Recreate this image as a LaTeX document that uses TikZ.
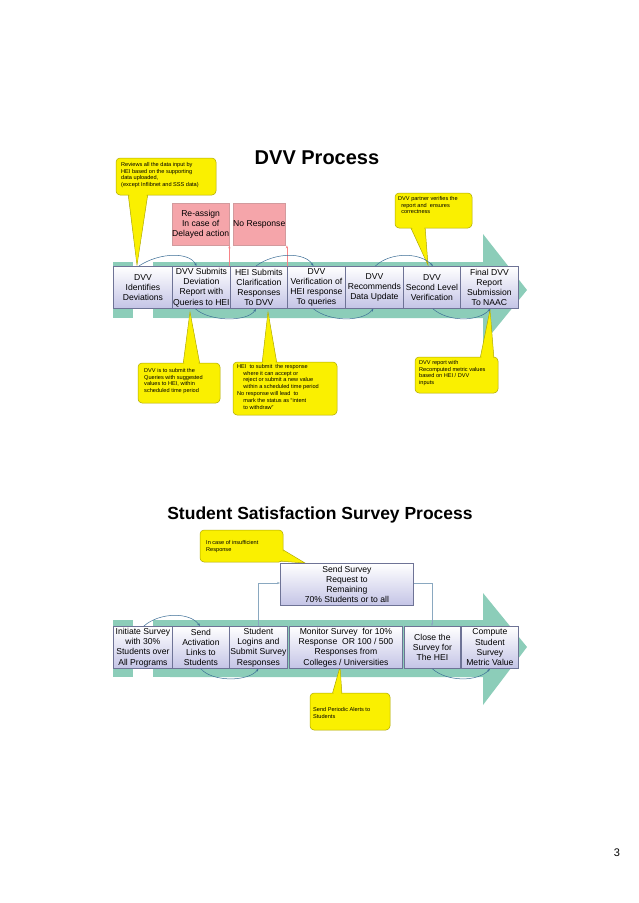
\documentclass[tikz,border=0pt]{standalone}
\usepackage{fontspec}
\setmainfont{Liberation Sans}
\usetikzlibrary{arrows.meta}
\definecolor{teal1}{RGB}{140,205,185}
\definecolor{lav}{RGB}{196,196,230}
\definecolor{bord}{RGB}{110,115,150}
\definecolor{pinkb}{RGB}{245,165,170}
\definecolor{yel}{RGB}{250,240,0}
\definecolor{arcb}{RGB}{60,110,150}
\tikzset{
 stepbox/.style={draw=bord,line width=0.8pt,top color=white,bottom color=lav,minimum height=42pt,inner sep=0pt,align=center,font=\fontsize{8.6}{10.3}\selectfont,anchor=north west},
 pinkbox/.style={draw=pinkb!70!gray,fill=pinkb,inner sep=0pt,align=center,font=\fontsize{8.6}{10.3}\selectfont,anchor=north west},
 calltext/.style={inner sep=0pt,align=left,font=\fontsize{5.6}{6.8}\selectfont,anchor=north west},
 arcarrow/.style={draw=arcb,line width=0.5pt,-{Stealth[length=3pt]}},
 pinkarrow/.style={draw=pinkb!80!red,line width=0.5pt,-{Stealth[length=3pt]}},
 linarrow/.style={draw=arcb!60,line width=0.5pt,-{Stealth[length=3pt]}}
}
\newcommand{\callout}[6]{% x1 y1 x2 y2 tipx tipy ; pointer base computed from rect edge
  \fill[yel,draw=yel!70!black,line width=0.5pt,rounded corners=4pt] (#1,#2) rectangle (#3,#4);
}
\begin{document}
\begin{tikzpicture}[x=1pt,y=-1pt]
\useasboundingbox (0,0) rectangle (638,903);
\fill[white] (0,0) rectangle (638,903);
% ---------- DVV ----------
\node[font=\bfseries\fontsize{20}{24}\selectfont] (t1) at (317,158) {DVV Process};
% band and arrowhead
\fill[teal1] (113,262) rectangle (133,318);
\fill[teal1] (153,262) rectangle (170,318);
\fill[teal1] (170,262) -- (483,262) -- (483,234) -- (527,290) -- (483,344) -- (483,318) -- (170,318) -- cycle;
% callout pointers
\fill[yel,draw=yel!70!black,line width=0.5pt] (128,193) -- (137,265) -- (148,193) -- cycle;
\fill[yel,draw=yel!70!black,line width=0.5pt] (410,226) -- (428,265) -- (425,226) -- cycle;
\fill[yel,draw=yel!70!black,line width=0.5pt] (183,365) -- (190,312) -- (200,365) -- cycle;
\fill[yel,draw=yel!70!black,line width=0.5pt] (262,364) -- (268,312) -- (277,364) -- cycle;
\fill[yel,draw=yel!70!black,line width=0.5pt] (480,359) -- (490,310) -- (494,359) -- cycle;
% callouts
\fill[yel,draw=yel!70!black,line width=0.5pt,rounded corners=4pt] (116,158) rectangle (216,195);
\fill[yel,draw=yel!70!black,line width=0.5pt,rounded corners=4pt] (395,193) rectangle (472,228);
\fill[yel,draw=yel!70!black,line width=0.5pt,rounded corners=4pt] (138,363) rectangle (220,403);
\fill[yel,draw=yel!70!black,line width=0.5pt,rounded corners=4pt] (233,362) rectangle (337,415);
\fill[yel,draw=yel!70!black,line width=0.5pt,rounded corners=4pt] (415,357) rectangle (498,393);
\fill[yel] (129,192) -- (137,262) -- (147,192) -- cycle;
\fill[yel] (411,225) -- (427,262) -- (424,225) -- cycle;
\fill[yel] (184,366) -- (190,315) -- (199,366) -- cycle;
\fill[yel] (263,365) -- (268,315) -- (276,365) -- cycle;
\fill[yel] (481,360) -- (490,313) -- (493,360) -- cycle;
\node[calltext] (c1) at (121,162) {Reviews all the data input by\\HEI based on the supporting\\data uploaded,\\(except Inflibnet and SSS data)};
\node[calltext] (c2) at (398,196) {DVV partner verifies the\\\ \ report and\ \ ensures\\\ \ correctness};
\node[calltext] (c3) at (144,368) {DVV is to submit the\\Queries with suggested\\values to HEI, within\\scheduled time period};
\node[calltext] (c4) at (237,364) {HEI\ \ to submit\ \ the response\\\ \ \ \ where it can accept or\\\ \ \ \ reject or submit a new value\\\ \ \ \ within a scheduled time period\\No response will lead\ \ to\\\ \ \ \ mark the status as ``intent\\\ \ \ \ to withdraw''};
\node[calltext] (c5) at (419,360) {DVV report with\\Recomputed metric values\\based on HEI / DVV\\inputs};
% pink boxes
\node[pinkbox,minimum width=56pt,minimum height=42pt] (p1) at (172,203) {Re-assign\\In case of\\Delayed action};
\node[pinkbox,minimum width=51pt,minimum height=42pt] (p2) at (233,203) {No Response};
% step boxes
\node[stepbox,minimum width=59pt] (d1) at (113,266) {DVV\\Identifies\\Deviations};
\node[stepbox,minimum width=58pt] (d2) at (172,266) {DVV Submits\\Deviation\\Report with\\Queries to HEI};
\node[stepbox,minimum width=57pt] (d3) at (230,266) {HEI Submits\\Clarification\\Responses\\To DVV};
\node[stepbox,minimum width=58pt] (d4) at (287,266) {DVV\\Verification of\\HEI response\\To queries};
\node[stepbox,minimum width=58pt] (d5) at (345,266) {DVV\\Recommends\\Data Update};
\node[stepbox,minimum width=57pt] (d6) at (403,266) {DVV\\Second Level\\Verification};
\node[stepbox,minimum width=58pt] (d7) at (460,266) {Final DVV\\Report\\Submission\\To NAAC};
\draw[pinkarrow] (d2.north) ++(28,0) coordinate (pa) -- (pa |- p1.south);
\draw[pinkarrow] (d3.north) ++(28,0) coordinate (pb) -- (pb |- p2.south);
% arcs
\draw[arcarrow] ([xshift=-4pt]d1.north) .. controls (160,252) and (190,252) .. ([xshift=-5pt]d2.north);
\draw[arcarrow] ([xshift=-6pt]d2.south) .. controls (210,322) and (248,322) .. ([xshift=-3pt]d3.south);
\draw[arcarrow] ([xshift=-3pt]d3.north) .. controls (275,252) and (305,252) .. ([xshift=-3pt]d4.north);
\draw[arcarrow] ([xshift=-3pt]d4.south) .. controls (330,322) and (362,322) .. ([xshift=-1pt]d5.south);
\draw[arcarrow] ([xshift=1pt]d5.north) .. controls (390,252) and (420,252) .. ([xshift=1pt]d6.north);
\draw[arcarrow] ([xshift=1pt]d6.south) .. controls (448,322) and (478,322) .. ([xshift=1pt]d7.south);
% ---------- Survey ----------
\node[font=\bfseries\fontsize{17.5}{21}\selectfont] (t2) at (320,515) {Student Satisfaction Survey Process};
\fill[teal1] (113,620) rectangle (133,677);
\fill[teal1] (153,620) rectangle (170,677);
\fill[teal1] (170,620) -- (483,620) -- (483,593) -- (527,647) -- (483,705) -- (483,677) -- (170,677) -- cycle;
\fill[yel,draw=yel!70!black,line width=0.5pt] (265,560) -- (305,563) -- (280,548) -- cycle;
\fill[yel,draw=yel!70!black,line width=0.5pt] (332,695) -- (340,667) -- (342,695) -- cycle;
\fill[yel,draw=yel!70!black,line width=0.5pt,rounded corners=4pt] (200,530) rectangle (283,562);
\fill[yel,draw=yel!70!black,line width=0.5pt,rounded corners=4pt] (310,693) rectangle (390,730);
\fill[yel] (264,559) -- (302,562) -- (281,550) -- cycle;
\fill[yel] (333,696) -- (340,670) -- (341,696) -- cycle;
\node[calltext] (s1) at (206,540) {In case of insufficient\\Response};
\node[calltext] (s2) at (313,707) {Send Periodic Alerts to\\Students};
\node[stepbox,minimum width=133pt] (sr) at (280,563) {Send Survey\\Request to\\Remaining\\70\% Students or to all};
\node[stepbox,minimum width=59pt] (e1) at (113,626) {Initiate Survey\\with 30\%\\Students over\\All Programs};
\node[stepbox,minimum width=57pt] (e2) at (172,626) {Send\\Activation\\Links to\\Students};
\node[stepbox,minimum width=58pt] (e3) at (229,626) {Student\\Logins and\\Submit Survey\\Responses};
\node[stepbox,minimum width=113pt] (e4) at (289,626) {Monitor Survey\ \ for 10\%\\Response\ \ OR 100 / 500\\Responses from\\Colleges / Universities};
\node[stepbox,minimum width=56pt] (e5) at (404,626) {Close the\\Survey for\\The HEI};
\node[stepbox,minimum width=57pt] (e6) at (461,626) {Compute\\Student\\Survey\\Metric Value};
\draw[linarrow] (e3.north) ++(0,0) coordinate (q1) -- (q1 |- 0,583) -- (sr.west |- 0,583);
\draw[linarrow] (sr.east |- 0,583) -- (432,583) -- (432,626);
\draw[arcarrow] ([xshift=1pt]e1.north) .. controls (160,612) and (190,612) .. ([xshift=-1pt]e2.north);
\draw[arcarrow] ([xshift=0pt]e2.south) .. controls (212,682) and (248,682) .. ([xshift=0pt]e3.south);
\draw[arcarrow] ([xshift=0pt]e5.south) .. controls (447,682) and (478,682) .. ([xshift=0pt]e6.south);
\node[font=\fontsize{11}{13}\selectfont] (pg) at (617,853) {3};
\end{tikzpicture}
\end{document}
